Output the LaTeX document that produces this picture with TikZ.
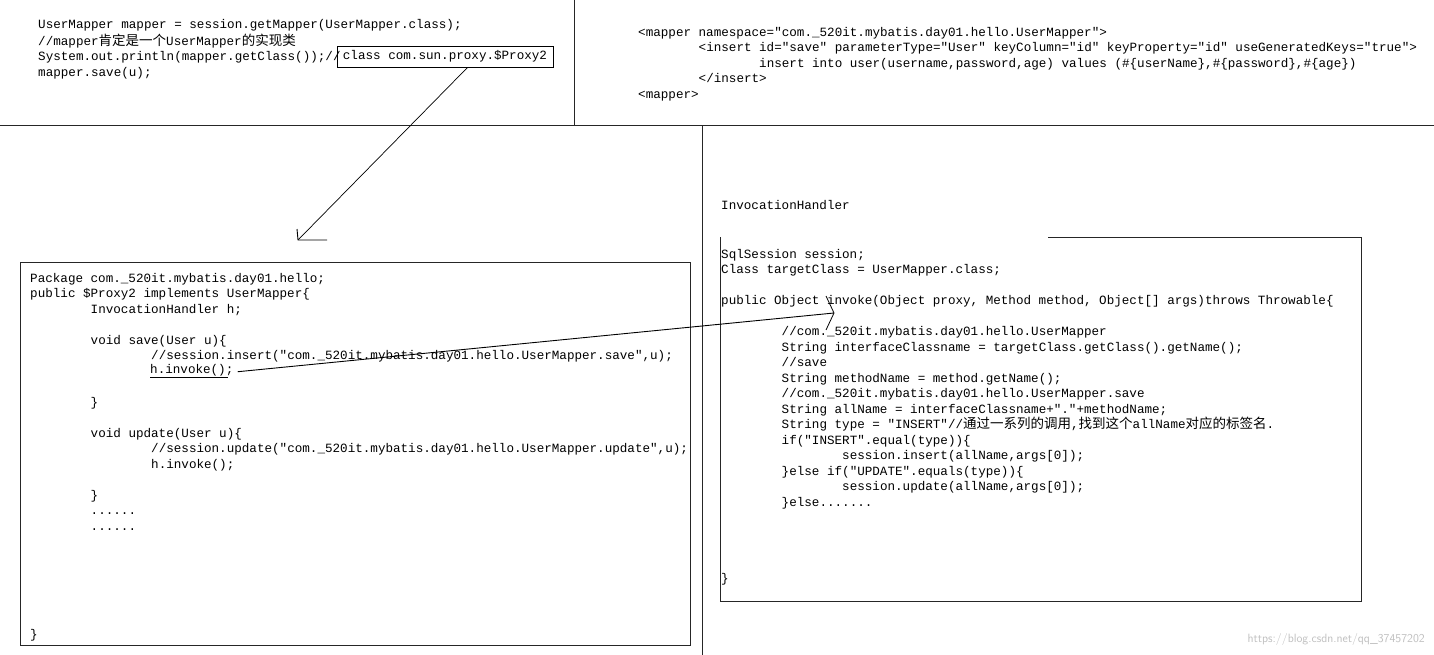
\documentclass[tikz,border=0pt]{standalone}
\usepackage{fontspec}
\setmonofont{Liberation Mono}
\newfontfamily\cjk{Noto Sans CJK SC}
\newcommand\T{\hspace*{60.5pt}}
\newcommand\C[1]{{\cjk\fontsize{13.5}{15.5}\selectfont #1}}
\begin{document}
\begin{tikzpicture}[x=1pt,y=-1pt,
  code/.style={anchor=north west,inner sep=0pt,align=left,font=\ttfamily\fontsize{12.6}{15.5}\selectfont},
  line1/.style={anchor=base west,inner sep=0pt,font=\ttfamily\fontsize{12.6}{15.5}\selectfont},
  rule/.style={draw=black!85,line width=0.9pt}]
\useasboundingbox (0,0) rectangle (1434,655);
% dividers
\draw[rule] (574,0) -- (574,126);
\draw[rule] (0,125) -- (1434,125);
\draw[rule] (702,126) -- (702,655);
% top-left code
\node[code] (tl) at (38,17) {\strut UserMapper mapper = session.getMapper(UserMapper.class);\\
//mapper\C{肯定是一个}UserMapper\C{的实现类}\\
System.out.println(mapper.getClass());//\\
mapper.save(u);};
\node[draw=black,line width=0.8pt,minimum width=216pt,minimum height=21pt,inner sep=0pt,font=\ttfamily\fontsize{12.6}{15.5}\selectfont] (proxy) at (445,56.5) {class com.sun.proxy.\$Proxy2};
% top-right xml
\node[code] (xml) at (638,25) {\strut<mapper namespace="com.\_520it.mybatis.day01.hello.UserMapper">\\
\T<insert id="save" parameterType="User" keyColumn="id" keyProperty="id" useGeneratedKeys="true">\\
\T\T insert into user(username,password,age) values (\#\{userName\},\#\{password\},\#\{age\})\\
\T</insert>\\
<mapper>};
% left box
\draw[rule] (20,262) rectangle (690,645);
\node[code] (proxycls) at (30,271) {\strut Package com.\_520it.mybatis.day01.hello;\\
public \$Proxy2 implements UserMapper\{\\
\T InvocationHandler h;\\
\mbox{}\\
\T void save(User u)\{\\
\T\T //session.insert("com.\_520it.mybatis.day01.hello.UserMapper.save",u);\\
\T\T\phantom{h.invoke();}\\
\mbox{}\\
\T\}\\
\mbox{}\\
\T void update(User u)\{\\
\T\T //session.update("com.\_520it.mybatis.day01.hello.UserMapper.update",u);\\
\T\T h.invoke();\\
\mbox{}\\
\T\}\\
\T ......\\
\T ......};
\node[line1] (hinv) at (150,373) {h.invoke();};
\node[line1] (lend) at (30,638) {\}};
\draw[line width=0.8pt] (150,377) -- (228,377);
% right panel
\node[line1] (ih) at (721,210) {InvocationHandler};
\draw[rule] (1048,237) -- (1361,237) -- (1361,601) -- (720,601) -- (720,237);
\node[code] (handler) at (721,247) {\strut SqlSession session;\\
Class targetClass = UserMapper.class;\\
\mbox{}\\
public Object invoke(Object proxy, Method method, Object[] args)throws Throwable\{\\
\mbox{}\\
\T //com.\_520it.mybatis.day01.hello.UserMapper\\
\T String interfaceClassname = targetClass.getClass().getName();\\
\T //save\\
\T String methodName = method.getName();\\
\T //com.\_520it.mybatis.day01.hello.UserMapper.save\\
\T String allName = interfaceClassname+"."+methodName;\\
\T String type = "INSERT"//\C{通过一系列的调用},\C{找到这个}allName\C{对应的标签名}.\\
\T if("INSERT".equal(type))\{\\
\T\T session.insert(allName,args[0]);\\
\T\}else if("UPDATE".equals(type))\{\\
\T\T session.update(allName,args[0]);\\
\T\}else.......};
\node[line1] (rend) at (721,582) {\}};
% connectors
\coordinate (tip1) at (298,240);
\draw[line width=0.7pt] ([xshift=131pt]proxy.south west) -- (tip1);
\draw[line width=0.9pt] (297,229) -- (tip1) -- (327,240);
\coordinate (tip2) at (834,313);
\draw[line width=0.9pt] (hinv.east) ++(4pt,-2pt) -- (tip2);
\draw[line width=0.8pt] (826,296) -- (tip2) -- (826,330);
% watermark
\node[anchor=base east,inner sep=0pt,text=black!25,font=\sffamily\fontsize{12}{14}\selectfont] (wm) at (1425,642) {https://blog.csdn.net/qq\_37457202};
\end{tikzpicture}
\end{document}
